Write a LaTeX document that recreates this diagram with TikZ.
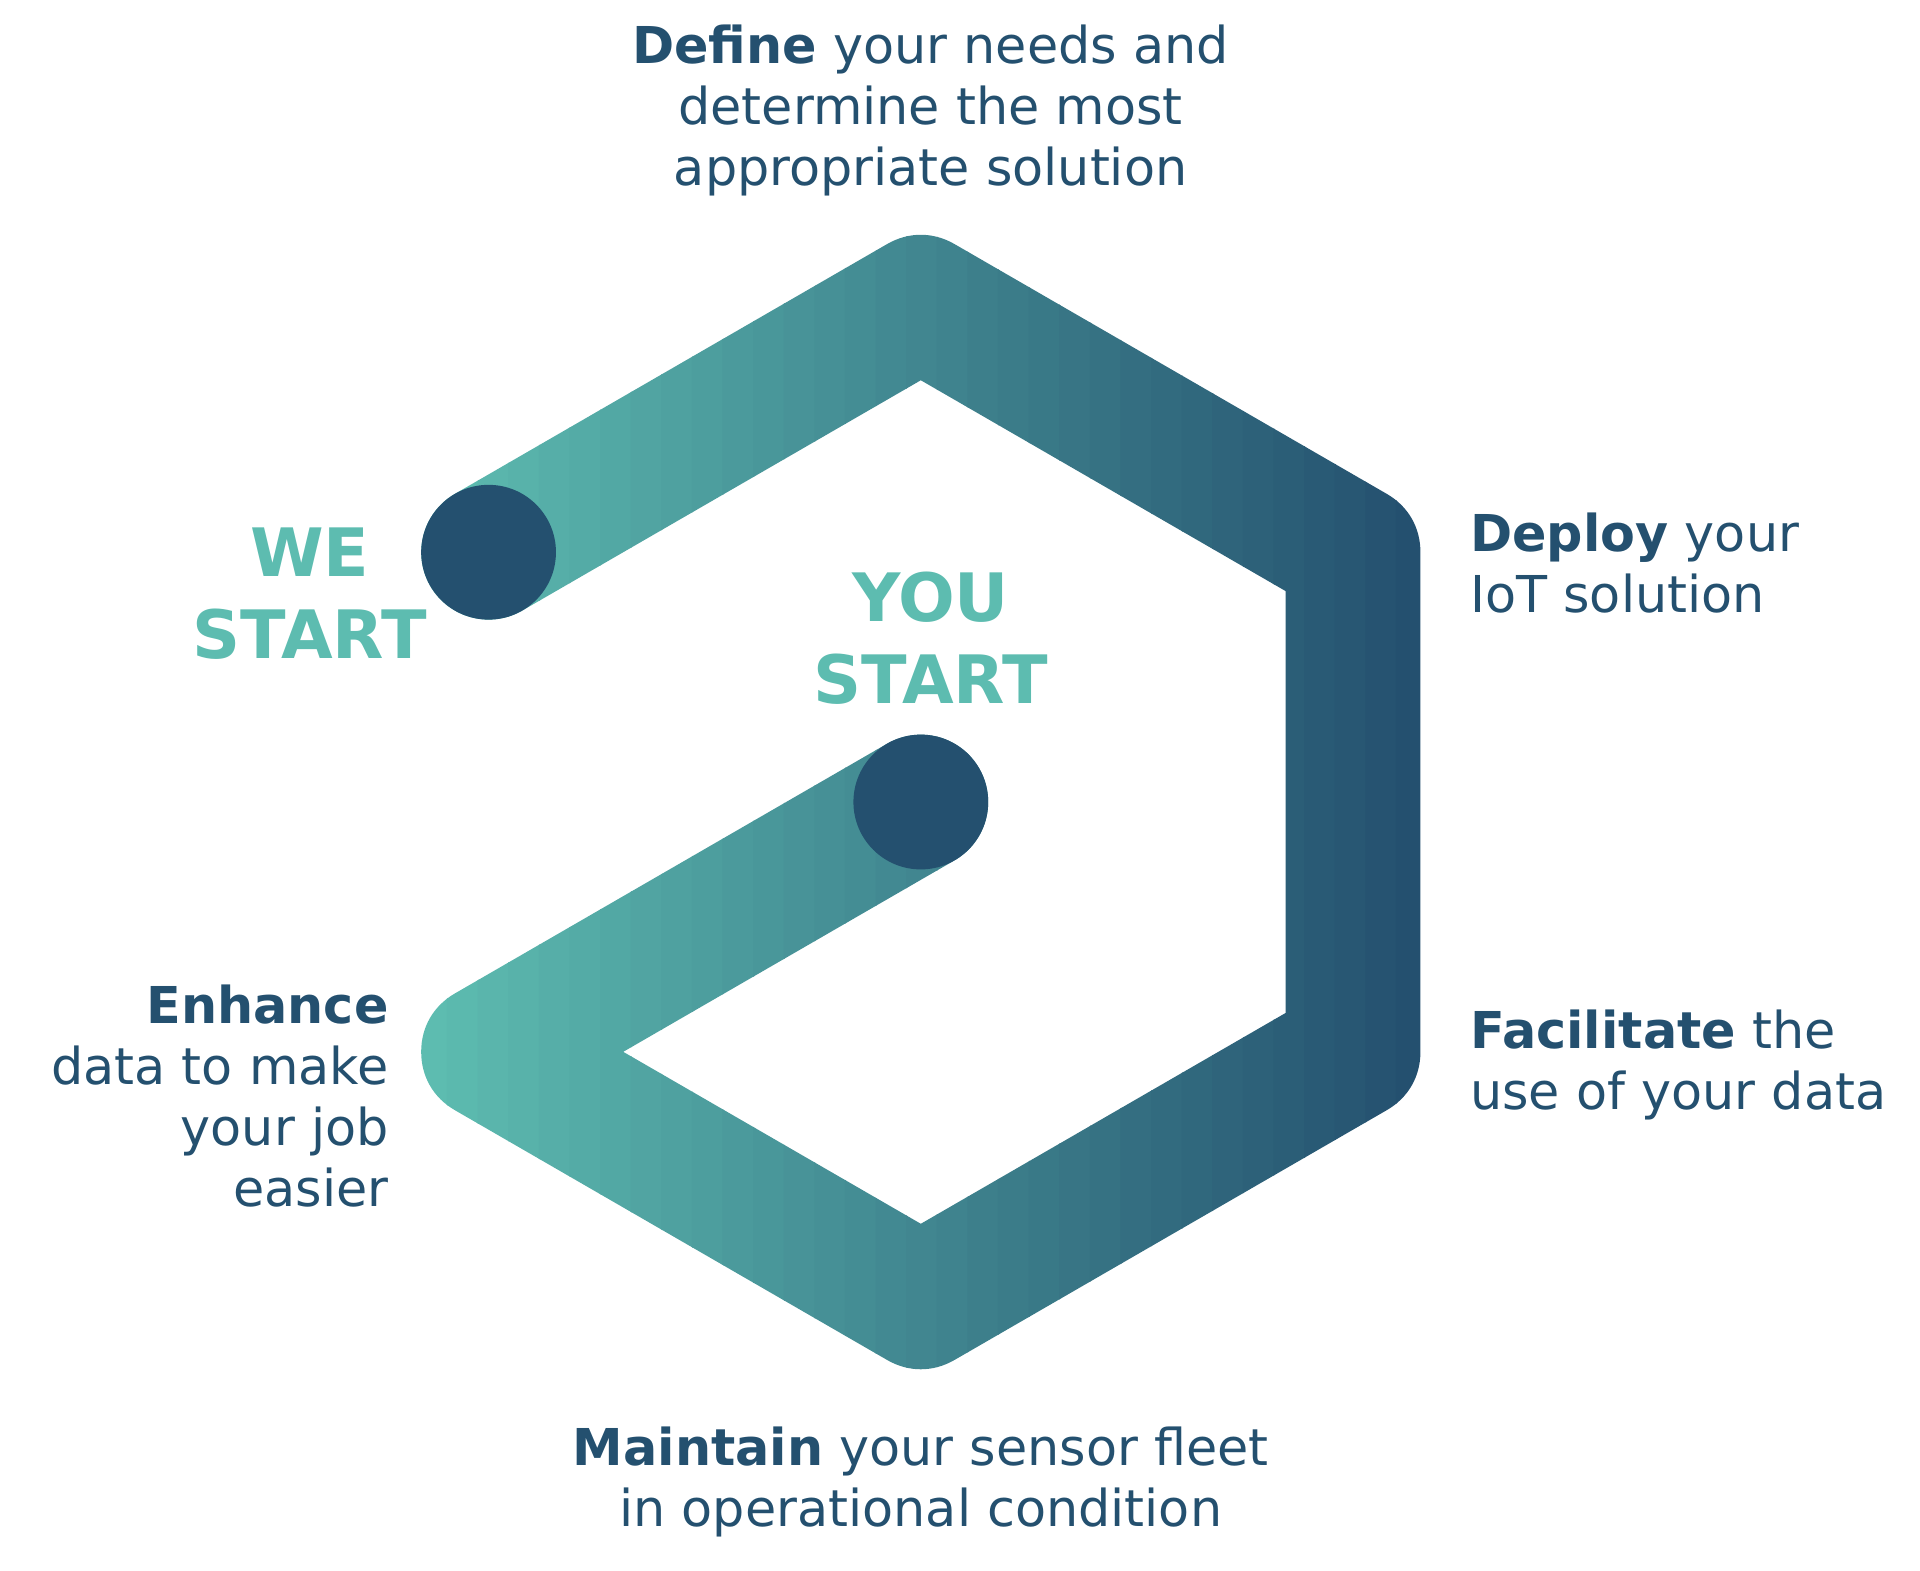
\documentclass[tikz,border=0pt]{standalone}
\usepackage{fontspec}
\setmainfont{DejaVu Sans}
\definecolor{ink}{HTML}{24506F}
\definecolor{mint}{HTML}{5DBCB0}
\begin{document}
\begin{tikzpicture}[x=0.01cm,y=-0.01cm]
    \tikzstyle{label}=[text=ink,font=\fontsize{11.8}{14.2}\selectfont,inner sep=0pt]
    \tikzstyle{start}=[text=mint,font=\fontsize{15.5}{19}\selectfont\bfseries,align=center,inner sep=0pt]
    \tikzstyle{dot}=[circle,fill=ink,minimum size=1.1cm,inner sep=0pt]
    \tikzstyle{band}=[line width=1.1cm,line join=round,line cap=round]
    \useasboundingbox (0,0) rectangle (1568,1283);

    % The hexagon corners
    \coordinate (we) at (399,451);
    \coordinate (top) at (752,247);
    \coordinate (rt) at (1105,451);
    \coordinate (rb) at (1105,859);
    \coordinate (bot) at (752,1063);
    \coordinate (lb) at (399,859);
    \coordinate (you) at (752,655);

    % Draw the band in thin strips, mint to ink
    \foreach \i in {0,...,32} {
        \pgfmathsetmacro\p{100*\i/32}
        \colorlet{seg}{ink!\p!mint}
        \begin{scope}
            \clip (340+25*\i,0) rectangle (340+25*\i+26,1283);
            \draw[band,seg] (we) -- (top) -- (rt) -- (rb) -- (bot) -- (lb) -- (you);
        \end{scope}
    }

    % The two start dots
    \node[dot] (we-dot) at (we) {};
    \node[dot] (you-dot) at (you) {};

    % Annotate the steps
    \node[label,align=center] (define) at (760,90) {\textbf{Define} your needs and\\determine the most\\appropriate solution};
    \node[label,align=left,anchor=west] (deploy) at (1200,460) {\textbf{Deploy} your\\IoT solution};
    \node[label,align=left,anchor=west] (facilitate) at (1200,870) {\textbf{Facilitate} the\\use of your data};
    \node[label,align=center] (maintain) at (752,1210) {\textbf{Maintain} your sensor fleet\\in operational condition};
    \node[label,align=right,anchor=east] (enhance) at (318,895) {\textbf{Enhance}\\data to make\\your job\\easier};
    \node[start] (we-start) at (253,485) {WE\\START};
    \node[start] (you-start) at (760,521) {YOU\\START};
\end{tikzpicture}
\end{document}
